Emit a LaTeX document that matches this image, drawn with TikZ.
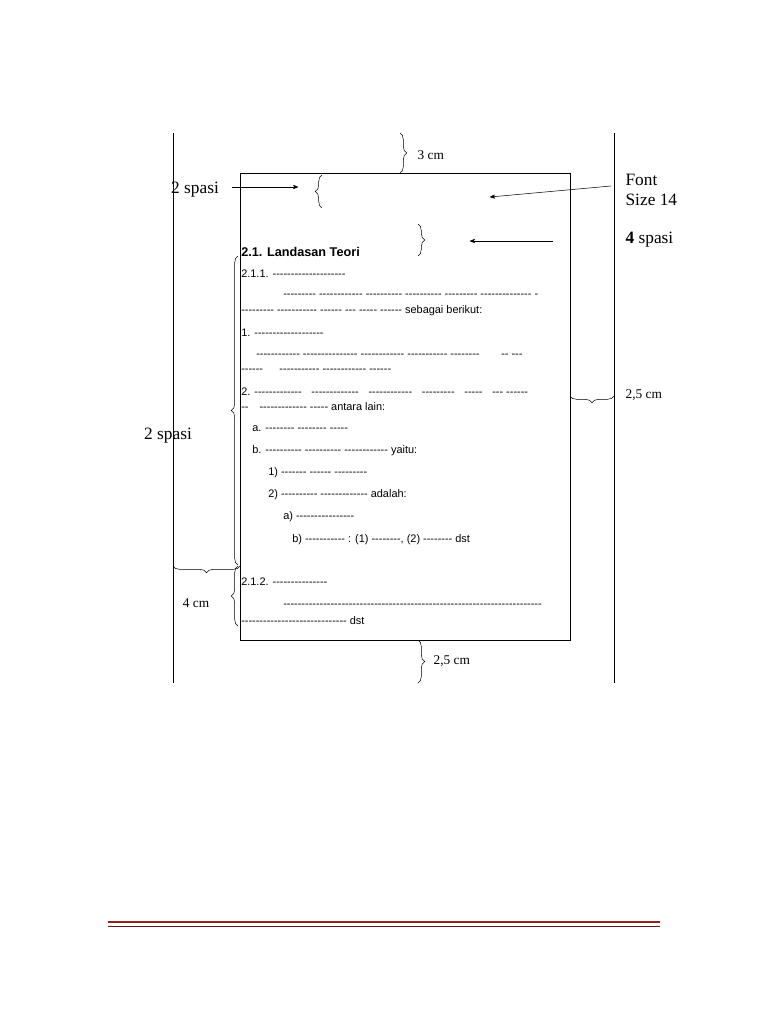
\documentclass[tikz,border=0pt]{standalone}
\usepackage{fontspec}
\setmainfont{Liberation Serif}
\newfontfamily\pgfont{Liberation Sans}[Ligatures=NoCommon]
\usetikzlibrary{arrows,positioning,decorations.pathreplacing}
\definecolor{footred}{RGB}{150,30,30}
\tikzset{>=stealth',thin,
  lbl/.style={font=\fontsize{10}{12}\selectfont,inner sep=1pt},
  txt/.style={anchor=west,inner sep=0pt,font=\pgfont\fontsize{8.2}{9}\selectfont},
  brc/.style={decorate,decoration={brace,amplitude=5pt}},
  guide/.style={draw,line width=0.5pt}}

\begin{document}
\begin{tikzpicture}[x=0.75pt,y=-0.75pt]
    \useasboundingbox (0,0) rectangle (768,1024);
    % margin guides and page
    \draw[guide] (173,133) -- (173,683);
    \draw[guide] (614,133) -- (614,683);
    \node[draw,minimum width=247.5pt,minimum height=350.25pt,inner sep=0pt,anchor=north west] (page) at (240,173) {};
    % margin labels
    \coordinate (t1) at (400,133); \coordinate (t2) at (400,173);
    \draw[brc] (t1) -- (t2);
    \node[lbl,anchor=west] (top) at (416,155) {3 cm};
    \coordinate (b1) at (418,640); \coordinate (b2) at (418,683);
    \draw[brc] (b1) -- (b2);
    \node[lbl,anchor=west] (bot) at (432,661) {2,5 cm};
    \coordinate (r1) at (570,396); \coordinate (r2) at (614,396);
    \draw[brc,decoration={mirror}] (r1) -- (r2);
    \node[lbl,anchor=west] (right) at (624,395) {2,5 cm};
    \coordinate (l1) at (173,566); \coordinate (l2) at (240,566);
    \draw[brc,decoration={mirror}] (l1) -- (l2);
    \node[lbl] (left) at (196,603) {4 cm};
    % spacing notes
    \node[lbl,font=\fontsize{13}{15}\selectfont] (sp1) at (195,190) {2 spasi};
    \coordinate (s1) at (298,187);
    \draw[->] (sp1.east) ++(12,-3) -- (s1);
    \draw[brc] (322,208) -- (322,175);
    \node[lbl,font=\fontsize{13}{15}\selectfont,align=left,anchor=west] (fs) at (624,190) {Font\\Size 14};
    \coordinate (f1) at (490,197);
    \draw[->] (611,186) -- (f1);
    \draw[brc] (418,224) -- (418,256);
    \node[lbl,font=\fontsize{13}{15}\selectfont,anchor=west] (sp4) at (624,240) {\textbf{4} spasi};
    \coordinate (f2) at (470,241);
    \draw[->] (553,241) -- (f2);
    \draw[brc] (238,565) -- (238,256);
    \node[lbl,font=\fontsize{13}{15}\selectfont] (sp2) at (168,436) {2 spasi};
    \draw[brc] (238,626) -- (238,566);
    % page text
    \node[txt,font=\pgfont\bfseries\fontsize{9.5}{11}\selectfont] (h1) at (241,252) {2.1. Landasan Teori};
    \node[txt] (h11) at (241,274) {2.1.1. --------------------};
    \node[txt] at (283,296) {--------- ------------ ---------- ---------- --------- -------------- -};
    \node[txt] at (241,311) {--------- ----------- ------ --- ----- ------ sebagai berikut:};
    \node[txt] at (241,333) {1. -------------------};
    \node[txt] at (256,356) {------------ --------------- ------------ ----------- --------\hspace{14pt} -- ---};
    \node[txt] at (241,371) {------\hspace{10pt} ----------- ------------ ------};
    \node[txt] at (241,392) {2. -------------\hspace{5pt} -------------\hspace{5pt} ------------\hspace{5pt} ---------\hspace{5pt} -----\hspace{5pt} --- ------};
    \node[txt] at (241,407) {--\hspace{6pt} ------------- ----- antara lain:};
    \node[txt] at (252,429) {a. -------- -------- -----};
    \node[txt] at (252,451) {b. ---------- ---------- ------------ yaitu:};
    \node[txt] at (268,473) {1) ------- ------ ---------};
    \node[txt] at (268,495) {2) ---------- ------------- adalah:};
    \node[txt] at (283,517) {a) ----------------};
    \node[txt] at (292,540) {b) ----------- : (1) --------, (2) -------- dst};
    \node[txt] (h12) at (241,582) {2.1.2. ---------------};
    \node[txt] at (283,606) {-----------------------------------------------------------------------};
    \node[txt] at (241,621) {----------------------------- dst};
    % footer rule
    \draw[footred,line width=1.2pt] (108,922) -- (660,922);
    \draw[footred!70!black,line width=0.5pt] (108,926) -- (660,926);
  \end{tikzpicture}
\end{document}
